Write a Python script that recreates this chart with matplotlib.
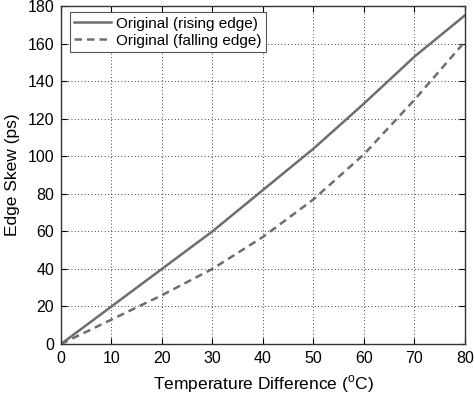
import matplotlib
matplotlib.use('Agg')
import matplotlib.pyplot as plt

# Data
temp_diff = [0, 10, 20, 30, 40, 50, 60, 70, 80]
skew_rising = [0, 20, 40, 60, 82, 104, 128, 153, 175]
skew_falling = [0, 13, 26, 40, 57, 77, 101, 130, 161]

plt.rcParams['font.family'] = ['Liberation Sans', 'DejaVu Sans']
plt.rcParams['mathtext.fontset'] = 'custom'
plt.rcParams['mathtext.rm'] = 'Liberation Sans'

fig = plt.figure(figsize=(4.74, 3.95), dpi=100)
ax = fig.add_axes([0.1287, 0.1291, 0.852, 0.8557])

line_col = '#6e6e6e'
ax.plot(temp_diff, skew_rising, color=line_col, linewidth=1.8, label='Original (rising edge)')
ax.plot(temp_diff, skew_falling, color=line_col, linewidth=1.8, linestyle=(0, (3.0, 2.0)),
        label='Original (falling edge)')

ax.set_xlim(0, 80)
ax.set_ylim(0, 180)
ax.set_xticks(range(0, 81, 10))
ax.set_yticks(range(0, 181, 20))

ax.grid(True, color='black', linestyle=(0, (1, 3)), linewidth=0.6)
ax.tick_params(direction='in', top=True, right=True, labelsize=11.5, length=4, width=0.8, pad=5)
for s in ax.spines.values():
    s.set_linewidth(1.0)
    s.set_color('#333333')

ax.set_xlabel(r'Temperature Difference ($^{\rm o}$C)', fontsize=12.5, labelpad=5)
ax.set_ylabel('Edge Skew (ps)', fontsize=12.5, labelpad=5)

leg = ax.legend(loc='upper left', bbox_to_anchor=(0.022, 0.982), borderaxespad=0,
                fontsize=11, fancybox=False, framealpha=1,
                edgecolor='#555555', handlelength=2.4,
                handletextpad=0.3, borderpad=0.3, labelspacing=0.2)
leg.get_frame().set_linewidth(0.8)

fig.savefig('out.png', dpi=100)
